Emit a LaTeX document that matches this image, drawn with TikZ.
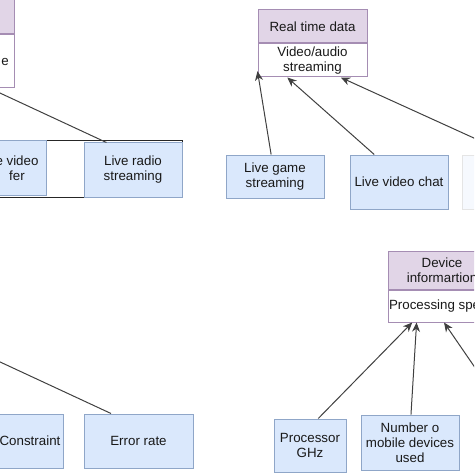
\documentclass[tikz,border=0pt]{standalone}
\usepackage{fontspec}
\setmainfont{Liberation Sans}
\usetikzlibrary{positioning, arrows.meta}

\definecolor{leafblue}{HTML}{DAE8FC}
\definecolor{leafedge}{HTML}{8FA6C8}
\definecolor{headpurple}{HTML}{E1D5E7}
\definecolor{headedge}{HTML}{A58DB3}

\tikzset{
  base/.style={align=center, inner sep=0pt, text=black!90,
    font=\fontsize{10}{11.25}\selectfont},
  leaf/.style={base, draw=leafedge, fill=leafblue, line width=0.75pt},
  header/.style={base, draw=headedge, fill=headpurple, line width=0.75pt},
  body/.style={base, draw=headedge, fill=white, line width=0.75pt},
  link/.style={draw=black!75, line width=0.75pt, -{Stealth[length=7pt,width=6pt]}}
}

\begin{document}
\begin{tikzpicture}[x=0.75pt, y=-0.75pt]
  \useasboundingbox (0,0) rectangle (474,474);
  \clip (0,0) rectangle (474,474);

  % frame round the left pair
  \draw[black!85, line width=0.75pt] (-10,141) rectangle (182,197);

  % top left class
  \node[header, minimum width=13.5pt, minimum height=27pt] (tlhead) at (5,16) {};
  \node[body, minimum width=13.5pt, minimum height=39.75pt] (tlbody) [below=0pt of tlhead] {e};
  \coordinate (tlfoot) at (-13,87);

  \node[leaf, minimum width=43.5pt, minimum height=40.5pt] (video) at (17,168) {e video\\fer};
  \node[leaf, minimum width=73.5pt, minimum height=40.5pt] (radio) at (133,170) {Live radio\\streaming};

  % real time data
  \node[header, minimum width=81.75pt, minimum height=24.75pt] (rthead) at (312.5,26.5) {Real time data};
  \node[body, minimum width=81.75pt, minimum height=24.75pt] (rtbody) [below=0pt of rthead] {Video/audio\\streaming};

  \node[leaf, minimum width=73.5pt, minimum height=32.25pt] (game) at (275,176.5) {Live game\\streaming};
  \node[leaf, minimum width=73.5pt, minimum height=40.5pt] (chat) at (399,182) {Live video chat};
  \node[leaf, draw=black!10, fill=leafblue!25, minimum width=73.5pt, minimum height=40.5pt] (edgebox) at (511,182) {};
  \coordinate (chatfar) at (520,159);

  % device information
  \node[header, minimum width=81pt, minimum height=28.5pt] (dihead) at (442,270) {Device\\informartion};
  \node[body, minimum width=81pt, minimum height=24pt] (dibody) [below=0pt of dihead] {Processing speed};

  \node[leaf, minimum width=54pt, minimum height=39.75pt] (proc) at (310,445.5) {Processor\\GHz};
  \node[leaf, minimum width=73.5pt, minimum height=41.25pt] (num) at (410,442.5) {Number o\\mobile devices\\used};
  \coordinate (devfar) at (500,404);

  % bottom left
  \node[leaf, minimum width=49.5pt, minimum height=40.5pt] (constr) at (30,441) {Constraint};
  \node[leaf, minimum width=81.75pt, minimum height=40.5pt] (err) at (138.5,441) {Error rate};
  \coordinate (errfar) at (-30,348);

  % connectors
  \draw[link] (radio.134) -- (tlfoot);
  \draw[link] (err.135) -- (errfar);
  \draw[link] (game.100) -- (rtbody.191);
  \draw[link] (chat.132) -- (rtbody.214);
  \draw[link] (chatfar) -- (rtbody.329);
  \draw[link] (proc.73) -- (dibody.209);
  \draw[link] (num.88) -- (dibody.213);
  \draw[link] (devfar) -- (dibody.277);
\end{tikzpicture}
\end{document}
